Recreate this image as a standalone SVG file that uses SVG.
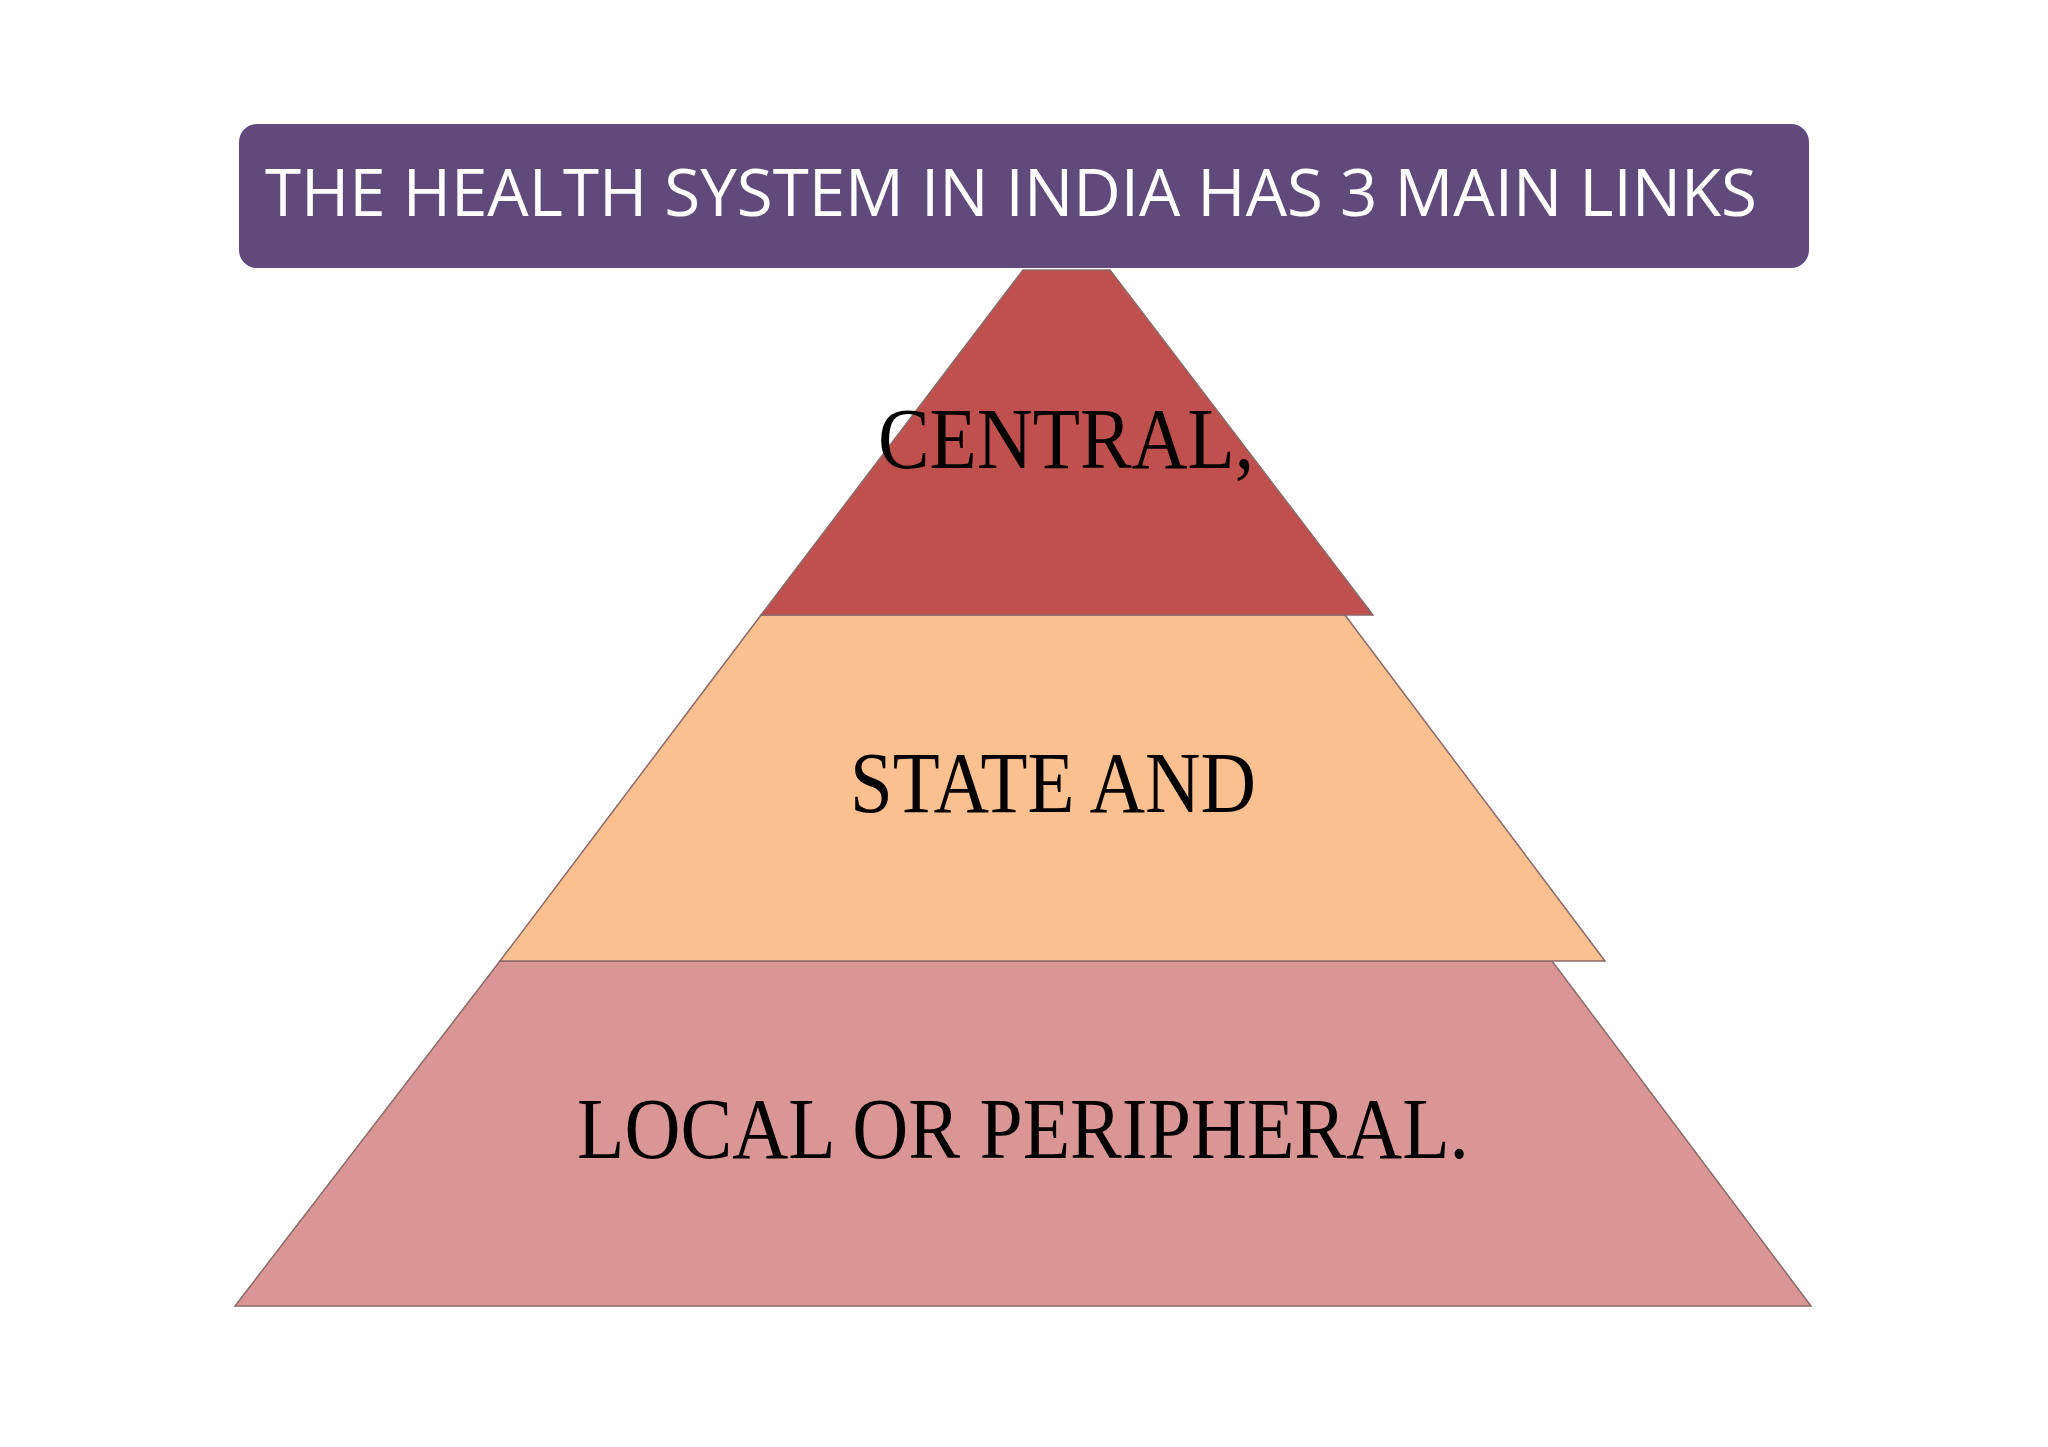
<svg xmlns="http://www.w3.org/2000/svg" width="2048" height="1447" viewBox="0 0 2048 1447">
<style>
.lbl{font-family:"Liberation Serif",serif;font-size:86px;fill:#000}
.tier{stroke:#8a6a6a;stroke-width:1.5}
</style>
<rect width="2048" height="1447" fill="#fff"/>
<g id="title">
<rect x="239" y="124" width="1570" height="144" rx="18" fill="#604A7B"/>
<text x="265" y="216" font-family="Open Sans, sans-serif" font-size="66" fill="#fff" textLength="1492" lengthAdjust="spacingAndGlyphs">THE HEALTH SYSTEM IN INDIA HAS 3 MAIN LINKS</text>
</g>
<g id="local">
<polygon class="tier" points="500,961 1552,961 1811,1306 235,1306" fill="#D99694"/>
<text class="lbl" x="577" y="1158" textLength="892" lengthAdjust="spacingAndGlyphs">LOCAL OR PERIPHERAL.</text>
</g>
<g id="state">
<polygon class="tier" points="761,615 1345,615 1605,961 500,961" fill="#FAC090"/>
<text class="lbl" x="850" y="812" textLength="406" lengthAdjust="spacingAndGlyphs">STATE AND</text>
</g>
<g id="central">
<polygon class="tier" points="1023,270 1110,270 1373,615 761,615" fill="#C0504D"/>
<text class="lbl" x="878" y="468" textLength="376" lengthAdjust="spacingAndGlyphs">CENTRAL,</text>
</g>
<g id="connectors"/>
</svg>
